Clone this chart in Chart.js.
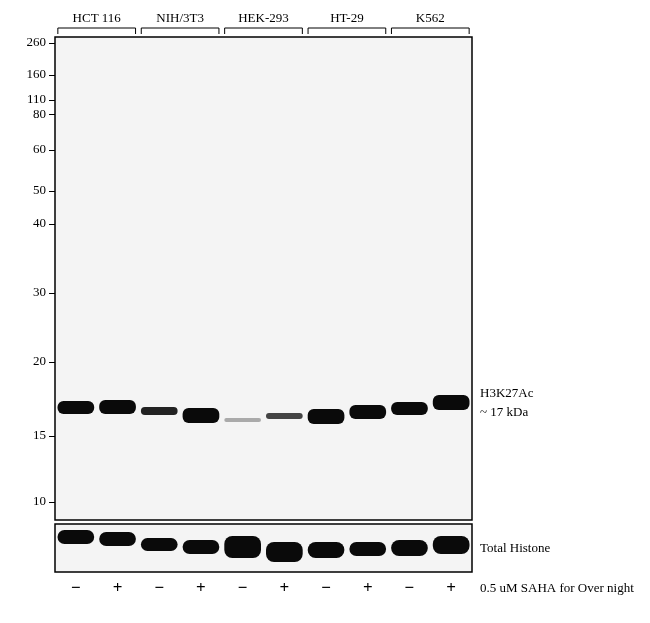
<!DOCTYPE html>
<html><head><meta charset="utf-8">
<script src="https://cdn.jsdelivr.net/npm/chart.js@4"></script>
<style>body{margin:0;background:#fff}canvas{position:absolute;left:0;top:0}</style>
</head><body>
<canvas id="a" width="650" height="623"></canvas>
<canvas id="b" width="650" height="623"></canvas>
<script>
const lanes = ['HCT 116 -','HCT 116 +','NIH/3T3 -','NIH/3T3 +','HEK-293 -','HEK-293 +','HT-29 -','HT-29 +','K562 -','K562 +'];
const cellLines = ['HCT 116','NIH/3T3','HEK-293','HT-29','K562'];
const treatment = ['−','+','−','+','−','+','−','+','−','+'];
// marker ladder: label (kDa) and migration position (axis units from bottom of gel)
const markerKDa = [260,160,110,80,60,50,40,30,20,15,10];
const markerPos = [477,445,420,405,370,329,296,227,158,84,18];
// H3K27Ac band ranges [bottom, top] in migration units
const h3Low  = [106,106,105,97,98,101,96,101,105,110];
const h3High = [119,120,113,112,102,107,111,115,118,125];
const h3Shade = ['#0a0a0a','#0a0a0a','#222','#0a0a0a','#aaa','#444','#0a0a0a','#0a0a0a','#0a0a0a','#0a0a0a'];
// Total histone band ranges
const thLow  = [28,26,21,18,14,10,14,16,16,18];
const thHigh = [42,40,34,32,36,30,30,30,32,36];

const serif = 'Liberation Serif';
const frame = {id:'frame', afterDraw(c){const a=c.chartArea,x=c.ctx;x.save();x.strokeStyle='#000';x.lineWidth=1.5;x.strokeRect(a.left,a.top,a.right-a.left,a.bottom-a.top);x.restore();},
 beforeDraw(c){const a=c.chartArea,x=c.ctx;x.save();x.fillStyle='#f4f4f4';x.fillRect(a.left,a.top,a.right-a.left,a.bottom-a.top);x.restore();}};
const labels1 = {id:'l1', afterDraw(c){const x=c.ctx,xs=c.scales.x;x.save();x.font='13px '+serif;x.fillStyle='#000';x.strokeStyle='#000';x.lineWidth=1;x.textAlign='center';
 cellLines.forEach((n,i)=>{const l=xs.getPixelForValue(2*i)-20,r=xs.getPixelForValue(2*i+1)+20;x.fillText(n,(l+r)/2,22);x.beginPath();x.moveTo(l+2,34);x.lineTo(l+2,28);x.lineTo(r-2,28);x.lineTo(r-2,34);x.stroke();});
 x.textAlign='left';x.fillText('H3K27Ac',480,397);x.fillText('~ 17 kDa',480,416);x.restore();}};
new Chart(document.getElementById('a'),{type:'bar',
 data:{labels:lanes,datasets:[{data:lanes.map((_, i)=>[h3Low[i],h3High[i]]),backgroundColor:h3Shade,borderRadius:6,borderSkipped:false,barPercentage:0.88,categoryPercentage:1}]},
 options:{responsive:false,animation:false,layout:{padding:{left:0,top:37,right:178,bottom:103}},
  plugins:{legend:{display:false},tooltip:{enabled:false}},
  scales:{x:{display:false},
   y:{min:0,max:483,afterFit(s){s.width=55;},afterBuildTicks(s){s.ticks=markerPos.map(v=>({value:v}));},
    grid:{drawOnChartArea:false,drawTicks:true,tickLength:6,color:'#000'},border:{display:false},
    ticks:{color:'#000',font:{family:serif,size:13},padding:3,callback:(v)=>{const i=markerPos.indexOf(v);return i>=0?markerKDa[i]:'';}}}}},
 plugins:[frame,labels1]});
const labels2 = {id:'l2', afterDraw(c){const x=c.ctx,xs=c.scales.x;x.save();x.fillStyle='#000';x.textAlign='center';
 treatment.forEach((t,i)=>{x.font='bold 17px '+serif;x.fillText(t,xs.getPixelForValue(i),593);});
 x.font='13px '+serif;x.textAlign='left';x.fillText('Total Histone',480,552);x.fillText('0.5 uM SAHA for Over night',480,592);x.restore();}};
new Chart(document.getElementById('b'),{type:'bar',
 data:{labels:lanes,datasets:[{data:lanes.map((_, i)=>[thLow[i],thHigh[i]]),backgroundColor:'#0a0a0a',borderRadius:8,borderSkipped:false,barPercentage:0.88,categoryPercentage:1}]},
 options:{responsive:false,animation:false,layout:{padding:{left:55,top:524,right:178,bottom:51}},
  plugins:{legend:{display:false},tooltip:{enabled:false}},
  scales:{x:{display:false},y:{display:false,min:0,max:48}}},
 plugins:[frame,labels2]});
</script></body></html>
